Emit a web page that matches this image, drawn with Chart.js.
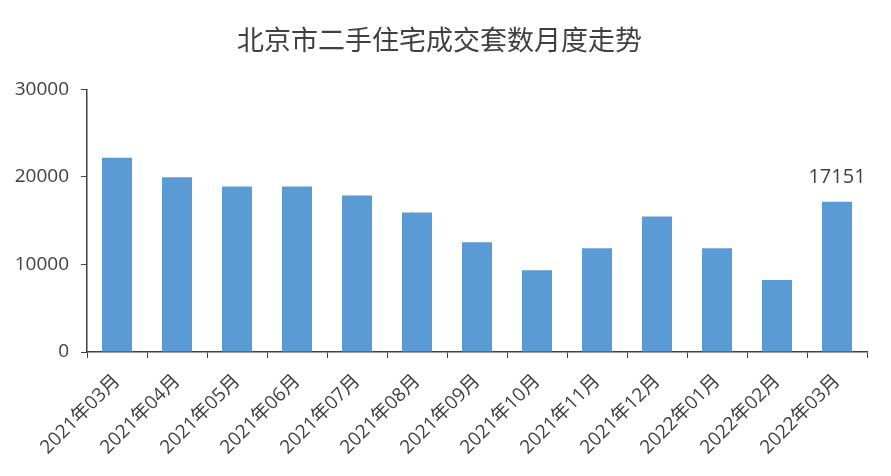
<!DOCTYPE html>
<html>
<head>
<meta charset="utf-8">
<script src="https://cdn.jsdelivr.net/npm/chart.js@4/dist/chart.umd.min.js"></script>
<style>
  html, body { margin: 0; padding: 0; background: #fff; }
  #wrap { width: 891px; height: 476px; position: relative; }
</style>
</head>
<body>
<div id="wrap"><canvas id="chart"></canvas></div>
<script>
// 月份
const months = [
  '2021年03月', '2021年04月', '2021年05月', '2021年06月', '2021年07月',
  '2021年08月', '2021年09月', '2021年10月', '2021年11月', '2021年12月',
  '2022年01月', '2022年02月', '2022年03月'
];
// 成交套数（读图估算，末月为标注值）
const deals = [22200, 19950, 18900, 18900, 17890, 15940, 12530, 9350, 11850, 15490, 11850, 8220, 17151];
// 需要标注数值的柱
const labelIndex = [12];

const TEXT_COLOR = '#404040';
const FONT = '"Open Sans", "Noto Sans CJK SC", sans-serif';

// 柱顶数值标注
const valueLabelPlugin = {
  id: 'valueLabel',
  afterDatasetsDraw(chart) {
    const ctx = chart.ctx;
    const meta = chart.getDatasetMeta(0);
    ctx.save();
    ctx.fillStyle = TEXT_COLOR;
    ctx.font = '20px ' + FONT;
    ctx.textAlign = 'center';
    ctx.textBaseline = 'bottom';
    labelIndex.forEach(i => {
      const bar = meta.data[i];
      ctx.fillText(String(deals[i]), bar.x, bar.y - 15);
    });
    ctx.restore();
  }
};

new Chart(document.getElementById('chart'), {
  type: 'bar',
  data: {
    labels: months,
    datasets: [{
      data: deals,
      backgroundColor: '#5B9BD5',
      barPercentage: 0.5,
      categoryPercentage: 1.0,
    }]
  },
  options: {
    responsive: true,
    maintainAspectRatio: false,
    animation: false,
    layout: { padding: { left: 12, right: 24, top: 0, bottom: 0 } },
    plugins: {
      legend: { display: false },
      tooltip: { enabled: false },
      title: {
        display: true,
        text: '北京市二手住宅成交套数月度走势',
        color: TEXT_COLOR,
        font: { family: '"Noto Sans CJK SC", sans-serif', size: 27, weight: 'normal' },
        padding: { top: 24, bottom: 33 }
      }
    },
    scales: {
      x: {
        offset: true,
        grid: {
          offset: true,
          drawOnChartArea: false,
          tickLength: 6,
          color: TEXT_COLOR,
        },
        border: { color: TEXT_COLOR, width: 1.5 },
        ticks: {
          color: TEXT_COLOR,
          font: { family: FONT, size: 19 },
          minRotation: 45,
          maxRotation: 45,
          padding: 12,
        },
        afterFit(scale) { scale.height = 124; }
      },
      y: {
        min: 0,
        max: 30000,
        grid: {
          drawOnChartArea: false,
          tickLength: 6,
          color: TEXT_COLOR,
        },
        border: { color: TEXT_COLOR, width: 1.5 },
        ticks: {
          stepSize: 10000,
          color: TEXT_COLOR,
          font: { family: FONT, size: 19 },
          padding: 12,
          callback: v => String(v)
        },
        afterFit(scale) { scale.width = 75; }
      }
    }
  },
  plugins: [valueLabelPlugin]
});
</script>
</body>
</html>
